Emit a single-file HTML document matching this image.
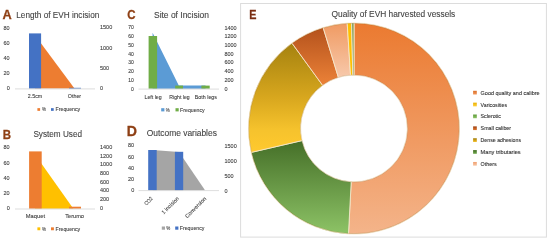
<!DOCTYPE html>
<html><head><meta charset="utf-8"><title>EVH figure</title>
<style>html,body{margin:0;padding:0;background:#fff;}svg{display:block;font-family:'Liberation Sans', sans-serif;}</style>
</head><body>
<svg width="550" height="241" viewBox="0 0 550 241">
<rect width="550" height="241" fill="#fff"/>
<text x="2.6" y="18.6" font-size="13" fill="#8E3F14" stroke="#8E3F14" stroke-width="0.3" textLength="9.2" lengthAdjust="spacingAndGlyphs" font-weight="bold">A</text>
<text x="16.3" y="17.5" font-size="9.5" fill="#444444" stroke="#444444" stroke-width="0.12" textLength="83" lengthAdjust="spacingAndGlyphs">Length of EVH incision</text>
<text x="9.7" y="29.75" font-size="5.5" fill="#404040" stroke="#404040" stroke-width="0.1" text-anchor="end">80</text>
<text x="9.7" y="44.75" font-size="5.5" fill="#404040" stroke="#404040" stroke-width="0.1" text-anchor="end">60</text>
<text x="9.7" y="59.85" font-size="5.5" fill="#404040" stroke="#404040" stroke-width="0.1" text-anchor="end">40</text>
<text x="9.7" y="74.95" font-size="5.5" fill="#404040" stroke="#404040" stroke-width="0.1" text-anchor="end">20</text>
<text x="9.7" y="90.15" font-size="5.5" fill="#404040" stroke="#404040" stroke-width="0.1" text-anchor="end">0</text>
<text x="100" y="29.45" font-size="5.5" fill="#404040" stroke="#404040" stroke-width="0.1">1500</text>
<text x="100" y="49.75" font-size="5.5" fill="#404040" stroke="#404040" stroke-width="0.1">1000</text>
<text x="100" y="70.05" font-size="5.5" fill="#404040" stroke="#404040" stroke-width="0.1">500</text>
<text x="100" y="90.25" font-size="5.5" fill="#404040" stroke="#404040" stroke-width="0.1">0</text>
<polygon points="35,35.3 74.5,88.6 35,88.6" fill="#ED7D31"/>
<rect x="29" y="33.4" width="12.1" height="55.2" fill="#4472C4"/>
<rect x="69" y="87.8" width="12" height="0.9" fill="#4472C4"/>
<line x1="15" y1="88.9" x2="95" y2="88.9" stroke="#d4d4d4" stroke-width="0.8"/>
<text x="35" y="98.4" font-size="5.5" fill="#404040" stroke="#404040" stroke-width="0.1" text-anchor="middle" textLength="14.3" lengthAdjust="spacingAndGlyphs">2.5cm</text>
<text x="74.5" y="98.4" font-size="5.5" fill="#404040" stroke="#404040" stroke-width="0.1" text-anchor="middle" textLength="13.3" lengthAdjust="spacingAndGlyphs">Other</text>
<rect x="37.4" y="108.15" width="2.7" height="2.7" fill="#ED7D31"/>
<text x="41.9" y="111.4" font-size="5.5" fill="#404040" stroke="#404040" stroke-width="0.1" textLength="4" lengthAdjust="spacingAndGlyphs">%</text>
<rect x="51" y="108.15" width="2.7" height="2.7" fill="#4472C4"/>
<text x="55.6" y="111.4" font-size="5.5" fill="#404040" stroke="#404040" stroke-width="0.1" textLength="24.6" lengthAdjust="spacingAndGlyphs">Frequency</text>
<text x="127.2" y="18.8" font-size="13" fill="#8E3F14" stroke="#8E3F14" stroke-width="0.3" textLength="8.3" lengthAdjust="spacingAndGlyphs" font-weight="bold">C</text>
<text x="154" y="18" font-size="9.5" fill="#444444" stroke="#444444" stroke-width="0.12" textLength="55" lengthAdjust="spacingAndGlyphs">Site of Incision</text>
<text x="133.7" y="29.38" font-size="5" fill="#404040" stroke="#404040" stroke-width="0.1" text-anchor="end">70</text>
<text x="133.7" y="38.12" font-size="5" fill="#404040" stroke="#404040" stroke-width="0.1" text-anchor="end">60</text>
<text x="133.7" y="46.85" font-size="5" fill="#404040" stroke="#404040" stroke-width="0.1" text-anchor="end">50</text>
<text x="133.7" y="55.59" font-size="5" fill="#404040" stroke="#404040" stroke-width="0.1" text-anchor="end">40</text>
<text x="133.7" y="64.34" font-size="5" fill="#404040" stroke="#404040" stroke-width="0.1" text-anchor="end">30</text>
<text x="133.7" y="73.08" font-size="5" fill="#404040" stroke="#404040" stroke-width="0.1" text-anchor="end">20</text>
<text x="133.7" y="81.81" font-size="5" fill="#404040" stroke="#404040" stroke-width="0.1" text-anchor="end">10</text>
<text x="133.7" y="90.56" font-size="5" fill="#404040" stroke="#404040" stroke-width="0.1" text-anchor="end">0</text>
<text x="224.4" y="29.55" font-size="5.5" fill="#404040" stroke="#404040" stroke-width="0.1">1400</text>
<text x="224.4" y="38.28" font-size="5.5" fill="#404040" stroke="#404040" stroke-width="0.1">1200</text>
<text x="224.4" y="47.01" font-size="5.5" fill="#404040" stroke="#404040" stroke-width="0.1">1000</text>
<text x="224.4" y="55.74" font-size="5.5" fill="#404040" stroke="#404040" stroke-width="0.1">800</text>
<text x="224.4" y="64.47" font-size="5.5" fill="#404040" stroke="#404040" stroke-width="0.1">600</text>
<text x="224.4" y="73.2" font-size="5.5" fill="#404040" stroke="#404040" stroke-width="0.1">400</text>
<text x="224.4" y="81.93" font-size="5.5" fill="#404040" stroke="#404040" stroke-width="0.1">200</text>
<text x="224.4" y="90.66" font-size="5.5" fill="#404040" stroke="#404040" stroke-width="0.1">0</text>
<polygon points="152.6,32.8 178.8,85.6 205.5,85.6 205.5,88.7 152.6,88.7" fill="#5B9BD5"/>
<rect x="148.6" y="36" width="8.5" height="52.7" fill="#70AD47"/>
<rect x="175.2" y="85.6" width="7.8" height="3.1" fill="#70AD47"/>
<rect x="201.4" y="85.6" width="8.3" height="3.1" fill="#70AD47"/>
<line x1="138.5" y1="89.1" x2="219" y2="89.1" stroke="#d4d4d4" stroke-width="0.8"/>
<text x="153.1" y="99.2" font-size="5.5" fill="#404040" stroke="#404040" stroke-width="0.1" text-anchor="middle" textLength="17.2" lengthAdjust="spacingAndGlyphs">Left leg</text>
<text x="179.5" y="99.2" font-size="5.5" fill="#404040" stroke="#404040" stroke-width="0.1" text-anchor="middle" textLength="20.3" lengthAdjust="spacingAndGlyphs">Right leg</text>
<text x="205.9" y="99.2" font-size="5.5" fill="#404040" stroke="#404040" stroke-width="0.1" text-anchor="middle" textLength="22.2" lengthAdjust="spacingAndGlyphs">Both legs</text>
<rect x="161.2" y="108.2" width="3.2" height="3.2" fill="#5B9BD5"/>
<text x="165.7" y="111.7" font-size="5.5" fill="#404040" stroke="#404040" stroke-width="0.1" textLength="4" lengthAdjust="spacingAndGlyphs">%</text>
<rect x="175.5" y="108.2" width="3.2" height="3.2" fill="#70AD47"/>
<text x="180.1" y="111.7" font-size="5.5" fill="#404040" stroke="#404040" stroke-width="0.1" textLength="24.6" lengthAdjust="spacingAndGlyphs">Frequency</text>
<text x="2.7" y="138.7" font-size="13" fill="#8E3F14" stroke="#8E3F14" stroke-width="0.3" textLength="8.3" lengthAdjust="spacingAndGlyphs" font-weight="bold">B</text>
<text x="33.4" y="137" font-size="9.5" fill="#444444" stroke="#444444" stroke-width="0.12" textLength="48.6" lengthAdjust="spacingAndGlyphs">System Used</text>
<text x="9.7" y="149.45" font-size="5.5" fill="#404040" stroke="#404040" stroke-width="0.1" text-anchor="end">80</text>
<text x="9.7" y="164.65" font-size="5.5" fill="#404040" stroke="#404040" stroke-width="0.1" text-anchor="end">60</text>
<text x="9.7" y="179.85" font-size="5.5" fill="#404040" stroke="#404040" stroke-width="0.1" text-anchor="end">40</text>
<text x="9.7" y="195.05" font-size="5.5" fill="#404040" stroke="#404040" stroke-width="0.1" text-anchor="end">20</text>
<text x="9.7" y="210.25" font-size="5.5" fill="#404040" stroke="#404040" stroke-width="0.1" text-anchor="end">0</text>
<text x="100" y="148.95" font-size="5.5" fill="#404040" stroke="#404040" stroke-width="0.1">1400</text>
<text x="100" y="157.65" font-size="5.5" fill="#404040" stroke="#404040" stroke-width="0.1">1200</text>
<text x="100" y="166.35" font-size="5.5" fill="#404040" stroke="#404040" stroke-width="0.1">1000</text>
<text x="100" y="175.05" font-size="5.5" fill="#404040" stroke="#404040" stroke-width="0.1">800</text>
<text x="100" y="183.75" font-size="5.5" fill="#404040" stroke="#404040" stroke-width="0.1">600</text>
<text x="100" y="192.45" font-size="5.5" fill="#404040" stroke="#404040" stroke-width="0.1">400</text>
<text x="100" y="201.15" font-size="5.5" fill="#404040" stroke="#404040" stroke-width="0.1">200</text>
<text x="100" y="209.85" font-size="5.5" fill="#404040" stroke="#404040" stroke-width="0.1">0</text>
<polygon points="35,154.5 73.4,208.7 35,208.7" fill="#FFC000"/>
<rect x="29.1" y="151.4" width="12.6" height="57.3" fill="#ED7D31"/>
<rect x="69" y="206.7" width="12" height="2" fill="#ED7D31"/>
<line x1="15" y1="209" x2="95" y2="209" stroke="#d4d4d4" stroke-width="0.8"/>
<text x="35.4" y="218.2" font-size="5.5" fill="#404040" stroke="#404040" stroke-width="0.1" text-anchor="middle" textLength="19.2" lengthAdjust="spacingAndGlyphs">Maquet</text>
<text x="74.6" y="218.2" font-size="5.5" fill="#404040" stroke="#404040" stroke-width="0.1" text-anchor="middle" textLength="18.7" lengthAdjust="spacingAndGlyphs">Terumo</text>
<rect x="37.4" y="227.35000000000002" width="2.9" height="2.9" fill="#FFC000"/>
<text x="41.9" y="230.7" font-size="5.5" fill="#404040" stroke="#404040" stroke-width="0.1" textLength="4" lengthAdjust="spacingAndGlyphs">%</text>
<rect x="51" y="227.35000000000002" width="2.9" height="2.9" fill="#ED7D31"/>
<text x="55.6" y="230.7" font-size="5.5" fill="#404040" stroke="#404040" stroke-width="0.1" textLength="24.6" lengthAdjust="spacingAndGlyphs">Frequency</text>
<text x="126.8" y="136.3" font-size="14" fill="#8E3F14" stroke="#8E3F14" stroke-width="0.3" textLength="10.2" lengthAdjust="spacingAndGlyphs" font-weight="bold">D</text>
<text x="146.7" y="135.6" font-size="9.5" fill="#444444" stroke="#444444" stroke-width="0.12" textLength="70.2" lengthAdjust="spacingAndGlyphs">Outcome variables</text>
<text x="134.2" y="147.35" font-size="5.5" fill="#404040" stroke="#404040" stroke-width="0.1" text-anchor="end">80</text>
<text x="134.2" y="158.5" font-size="5.5" fill="#404040" stroke="#404040" stroke-width="0.1" text-anchor="end">60</text>
<text x="134.2" y="169.65" font-size="5.5" fill="#404040" stroke="#404040" stroke-width="0.1" text-anchor="end">40</text>
<text x="134.2" y="180.8" font-size="5.5" fill="#404040" stroke="#404040" stroke-width="0.1" text-anchor="end">20</text>
<text x="134.2" y="191.95" font-size="5.5" fill="#404040" stroke="#404040" stroke-width="0.1" text-anchor="end">0</text>
<text x="224.5" y="147.95" font-size="5.5" fill="#404040" stroke="#404040" stroke-width="0.1">1500</text>
<text x="224.5" y="162.8" font-size="5.5" fill="#404040" stroke="#404040" stroke-width="0.1">1000</text>
<text x="224.5" y="177.65" font-size="5.5" fill="#404040" stroke="#404040" stroke-width="0.1">500</text>
<text x="224.5" y="192.5" font-size="5.5" fill="#404040" stroke="#404040" stroke-width="0.1">0</text>
<polygon points="152.7,150 179,152 205,190.3 152.7,190.3" fill="#A5A5A5"/>
<rect x="148.2" y="150" width="8.5" height="40.3" fill="#4472C4"/>
<rect x="174.9" y="151.8" width="8.3" height="38.5" fill="#4472C4"/>
<line x1="138.5" y1="190.6" x2="219" y2="190.6" stroke="#d4d4d4" stroke-width="0.8"/>
<text transform="translate(153.2,199) rotate(-45)" font-size="5.5" fill="#404040" stroke="#404040" stroke-width="0.1" text-anchor="end" textLength="9.6" lengthAdjust="spacingAndGlyphs">CO2</text>
<text transform="translate(179.4,199) rotate(-45)" font-size="5.5" fill="#404040" stroke="#404040" stroke-width="0.1" text-anchor="end" textLength="22" lengthAdjust="spacingAndGlyphs">1 incision</text>
<text transform="translate(206.7,199) rotate(-45)" font-size="5.5" fill="#404040" stroke="#404040" stroke-width="0.1" text-anchor="end" textLength="27.5" lengthAdjust="spacingAndGlyphs">Conversion</text>
<rect x="161.8" y="226.5" width="3.2" height="3.2" fill="#A5A5A5"/>
<text x="166.3" y="230.0" font-size="5.5" fill="#404040" stroke="#404040" stroke-width="0.1" textLength="4" lengthAdjust="spacingAndGlyphs">%</text>
<rect x="175.2" y="226.5" width="3.2" height="3.2" fill="#4472C4"/>
<text x="179.79999999999998" y="230.0" font-size="5.5" fill="#404040" stroke="#404040" stroke-width="0.1" textLength="24.6" lengthAdjust="spacingAndGlyphs">Frequency</text>
<rect x="240.6" y="3.5" width="305.8" height="233.6" fill="#fff" stroke="#dcdcdc" stroke-width="1"/>
<text x="249.3" y="18.9" font-size="13" fill="#7A2D12" stroke="#7A2D12" stroke-width="0.3" textLength="7.2" lengthAdjust="spacingAndGlyphs" font-weight="bold">E</text>
<text x="331.6" y="16.6" font-size="9.3" fill="#444444" stroke="#444444" stroke-width="0.12" textLength="123.7" lengthAdjust="spacingAndGlyphs">Quality of EVH harvested vessels</text>
<defs>
<linearGradient id="g1" x1="0" y1="0" x2="0" y2="1"><stop offset="0" stop-color="#EB7A30"/><stop offset="1" stop-color="#F4B48A"/></linearGradient>
<linearGradient id="g2" x1="0" y1="0" x2="0" y2="1"><stop offset="0" stop-color="#456F28"/><stop offset="1" stop-color="#8DC366"/></linearGradient>
<linearGradient id="g3" x1="0" y1="0" x2="0" y2="1"><stop offset="0" stop-color="#A5820F"/><stop offset="0.5" stop-color="#D8A71E"/><stop offset="0.8" stop-color="#F6C32D"/><stop offset="1" stop-color="#FFC92E"/></linearGradient>
<linearGradient id="g4" x1="0" y1="0" x2="0" y2="1"><stop offset="0" stop-color="#B4521C"/><stop offset="1" stop-color="#EC8238"/></linearGradient>
<linearGradient id="g5" x1="0" y1="0" x2="0" y2="1"><stop offset="0" stop-color="#F09A62"/><stop offset="1" stop-color="#F7C9AB"/></linearGradient>
<linearGradient id="l1" x1="0" y1="0" x2="0" y2="1"><stop offset="0" stop-color="#D9702A"/><stop offset="1" stop-color="#F3975A"/></linearGradient>
<linearGradient id="l2" x1="0" y1="0" x2="0" y2="1"><stop offset="0" stop-color="#E9B000"/><stop offset="1" stop-color="#FFD040"/></linearGradient>
<linearGradient id="l3" x1="0" y1="0" x2="0" y2="1"><stop offset="0" stop-color="#5F9A3A"/><stop offset="1" stop-color="#8CC465"/></linearGradient>
<linearGradient id="l4" x1="0" y1="0" x2="0" y2="1"><stop offset="0" stop-color="#9E4314"/><stop offset="1" stop-color="#E0742C"/></linearGradient>
<linearGradient id="l5" x1="0" y1="0" x2="0" y2="1"><stop offset="0" stop-color="#A07C0C"/><stop offset="1" stop-color="#F5BE22"/></linearGradient>
<linearGradient id="l6" x1="0" y1="0" x2="0" y2="1"><stop offset="0" stop-color="#3F6A22"/><stop offset="1" stop-color="#6FA84A"/></linearGradient>
<linearGradient id="l7" x1="0" y1="0" x2="0" y2="1"><stop offset="0" stop-color="#F0A070"/><stop offset="1" stop-color="#F7C4A2"/></linearGradient>
</defs>
<path d="M354.00,22.90 A105.6,105.6 0 1 1 348.47,233.96 L351.21,181.73 A53.3,53.3 0 1 0 354.00,75.20 Z" fill="url(#g1)" stroke="#f6e7cc" stroke-width="0.85"/>
<path d="M348.47,233.96 A105.6,105.6 0 0 1 251.15,152.43 L302.09,140.58 A53.3,53.3 0 0 0 351.21,181.73 Z" fill="url(#g2)" stroke="#f6e7cc" stroke-width="0.85"/>
<path d="M251.15,152.43 A105.6,105.6 0 0 1 291.93,43.07 L322.67,85.38 A53.3,53.3 0 0 0 302.09,140.58 Z" fill="url(#g3)" stroke="#f6e7cc" stroke-width="0.85"/>
<path d="M291.93,43.07 A105.6,105.6 0 0 1 323.13,27.51 L338.42,77.53 A53.3,53.3 0 0 0 322.67,85.38 Z" fill="url(#g4)" stroke="#f6e7cc" stroke-width="0.85"/>
<path d="M323.13,27.51 A105.6,105.6 0 0 1 347.19,23.12 L350.56,75.31 A53.3,53.3 0 0 0 338.42,77.53 Z" fill="url(#g5)" stroke="#f6e7cc" stroke-width="0.85"/>
<path d="M347.19,23.12 A105.6,105.6 0 0 1 351.60,22.93 L352.79,75.21 A53.3,53.3 0 0 0 350.56,75.31 Z" fill="#FFC000" stroke="#f6e7cc" stroke-width="0.85"/>
<path d="M351.60,22.93 A105.6,105.6 0 0 1 354.00,22.90 L354.00,75.20 A53.3,53.3 0 0 0 352.79,75.21 Z" fill="#7F9A55" stroke="#f6e7cc" stroke-width="0.85"/>
<circle cx="354" cy="128.5" r="105.1" fill="none" stroke="#7a4a00" stroke-opacity="0.22" stroke-width="0.9"/>
<circle cx="354" cy="128.5" r="53.699999999999996" fill="none" stroke="#6b4a20" stroke-opacity="0.18" stroke-width="0.8"/>
<rect x="473.1" y="90.80" width="3.7" height="3.7" fill="url(#l1)"/>
<text x="480.6" y="94.7" font-size="5.8" fill="#303030" stroke="#303030" stroke-width="0.1" textLength="59" lengthAdjust="spacingAndGlyphs">Good quality and calibre</text>
<rect x="473.1" y="102.66" width="3.7" height="3.7" fill="url(#l2)"/>
<text x="480.6" y="106.56" font-size="5.8" fill="#303030" stroke="#303030" stroke-width="0.1" textLength="26.5" lengthAdjust="spacingAndGlyphs">Varicosities</text>
<rect x="473.1" y="114.52" width="3.7" height="3.7" fill="url(#l3)"/>
<text x="480.6" y="118.42" font-size="5.8" fill="#303030" stroke="#303030" stroke-width="0.1" textLength="20.3" lengthAdjust="spacingAndGlyphs">Sclerotic</text>
<rect x="473.1" y="126.38" width="3.7" height="3.7" fill="url(#l4)"/>
<text x="480.6" y="130.28" font-size="5.8" fill="#303030" stroke="#303030" stroke-width="0.1" textLength="30.5" lengthAdjust="spacingAndGlyphs">Small caliber</text>
<rect x="473.1" y="138.24" width="3.7" height="3.7" fill="url(#l5)"/>
<text x="480.6" y="142.14" font-size="5.8" fill="#303030" stroke="#303030" stroke-width="0.1" textLength="40.4" lengthAdjust="spacingAndGlyphs">Dense adhesions</text>
<rect x="473.1" y="150.10" width="3.7" height="3.7" fill="url(#l6)"/>
<text x="480.6" y="154.0" font-size="5.8" fill="#303030" stroke="#303030" stroke-width="0.1" textLength="40" lengthAdjust="spacingAndGlyphs">Many tributaries</text>
<rect x="473.1" y="161.96" width="3.7" height="3.7" fill="url(#l7)"/>
<text x="480.6" y="165.86" font-size="5.8" fill="#303030" stroke="#303030" stroke-width="0.1" textLength="16.2" lengthAdjust="spacingAndGlyphs">Others</text>
</svg>
</body></html>
